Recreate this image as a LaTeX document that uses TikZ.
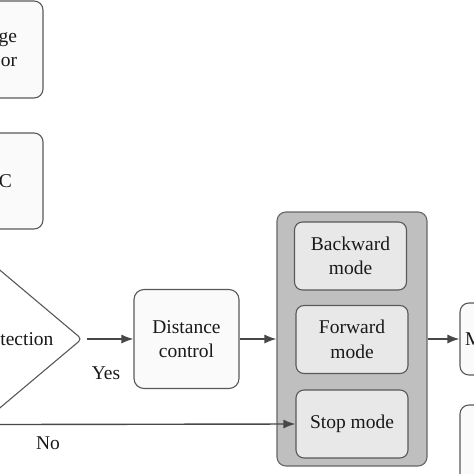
\documentclass[tikz,border=0pt]{standalone}
\usepackage{fontspec}
\setmainfont{Liberation Serif}
\usetikzlibrary{shapes.geometric,arrows.meta}

\tikzset{
  block/.style={draw=black!65, line width=1.1pt, rounded corners=9pt,
    fill=black!2, align=center, inner sep=0pt},
  modebox/.style={block, fill=black!9, minimum width=112pt,
    minimum height=68pt, rounded corners=8pt},
  flow/.style={->, line width=1.4pt, draw=black!72},
}

\begin{document}
\begin{tikzpicture}[x=1pt,y=-1pt,>={Latex[length=12pt,width=9pt]},
  font=\fontsize{19.5}{24.5}\selectfont, text=black!90]

	\useasboundingbox (0,0) rectangle (474,474);
	\clip (0,0) rectangle (474,474);

	% Left column, cut off by the left edge
	\node[block, text width=60pt, align=right, inner xsep=26pt, minimum height=97pt] (sensor) at (-13,49.5) {ge\\or};
	\node[block, text width=60pt, align=right, inner xsep=31pt, minimum height=96pt] (adc) at (-18,181) {C};

	% Decision diamond
	\node[draw=black!65, line width=1.1pt, shape=diamond, minimum width=202pt, minimum height=170pt,
	  inner sep=0pt, rounded corners=4pt, fill=white] (detect) at (-19,339) {};
	\node[anchor=east] (detect-label) at (57,339) {etection};

	% Distance control
	\node[block, minimum width=105pt, minimum height=99pt, rounded corners=10pt] (dist) at (186.5,339) {Distance\\control};

	% Mode group
	\node[draw=black!60, line width=1.1pt, fill=black!25, rounded corners=9pt,
	  minimum width=150pt, minimum height=254pt] (modes) at (352,339) {};
	\node[modebox] (back) at (350.5,256) {Backward\\mode};
	\node[modebox] (fwd) at (352,339.5) {Forward\\mode};
	\node[modebox] (stop) at (352,424) {Stop mode};

	% Right column, cut off by the right edge
	\node[block, text width=40pt, align=left, inner xsep=5pt, minimum height=72pt] (motor) at (485,339) {M};
	\node[block, minimum width=60pt, minimum height=90pt] (last) at (490,450) {};

	% Connectors
	\draw[flow, shorten <=4pt] (detect.east) -- (dist.west);
	\draw[flow] (dist.east) -- (modes.west);
	\draw[flow] (modes.east) -- (motor.west);
	\draw[flow] (detect.south) -- (stop.west);

	% Branch labels
	\node (yes) at (106,373) {Yes};
	\node (no) at (48,443) {No};

\end{tikzpicture}
\end{document}
